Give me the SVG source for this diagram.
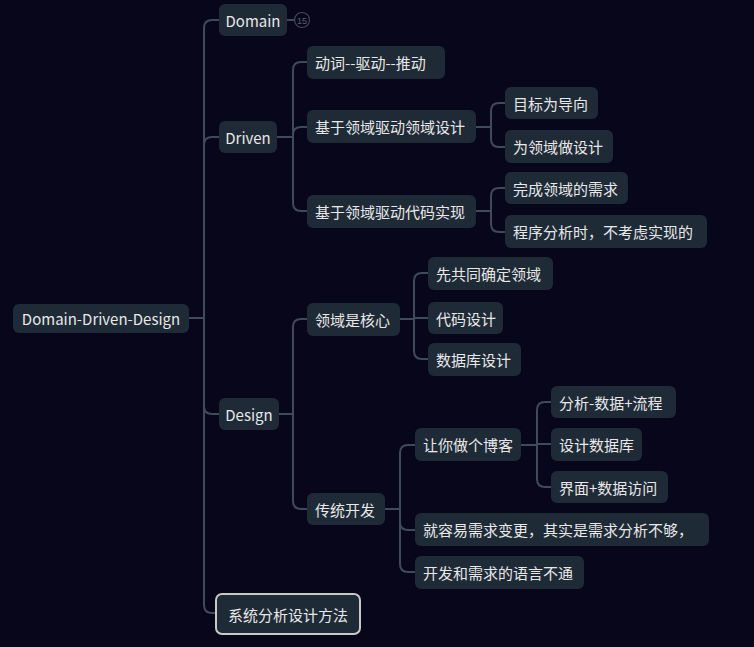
<svg xmlns="http://www.w3.org/2000/svg" width="754" height="647" viewBox="0 0 754 647">
<style>
.n rect{fill:#1f2a37;}
.n text{font-family:"Noto Sans CJK SC","Liberation Sans",sans-serif;font-size:15px;fill:#e8e8e8;dominant-baseline:central;}
.c path{fill:none;stroke:#3f4a5a;stroke-width:2;}
</style>
<rect width="754" height="647" fill="#07061a"/>
<g class="c">
<path d="M189,318 H204"/>
<path d="M204,318 V28 Q204,20 212,20 H219"/>
<path d="M204,318 V145 Q204,137 212,137 H219"/>
<path d="M204,318 V406 Q204,414 212,414 H219"/>
<path d="M204,318 V605 Q204,613 212,613 H216"/>
<path d="M287,20 H295"/>
<path d="M277,137 H293"/>
<path d="M293,137 V70 Q293,62 301,62 H307"/>
<path d="M293,137 V135 Q293,127 301,127 H307"/>
<path d="M293,137 V203 Q293,211 301,211 H307"/>
<path d="M476,127 H491"/>
<path d="M491,127 V111 Q491,103 499,103 H505"/>
<path d="M491,127 V139 Q491,147 499,147 H505"/>
<path d="M476,211 H491"/>
<path d="M491,211 V196 Q491,188 499,188 H505"/>
<path d="M491,211 V224 Q491,232 499,232 H505"/>
<path d="M279,414 H293"/>
<path d="M293,414 V327 Q293,319 301,319 H307"/>
<path d="M293,414 V501 Q293,509 301,509 H307"/>
<path d="M400,319 H414"/>
<path d="M414,319 V281 Q414,273 422,273 H428"/>
<path d="M414,319 V318 H428"/>
<path d="M414,319 V351 Q414,359 422,359 H428"/>
<path d="M385,509 H400"/>
<path d="M400,509 V453 Q400,445 408,445 H415"/>
<path d="M400,509 V522 Q400,530 408,530 H415"/>
<path d="M400,509 V564 Q400,572 408,572 H415"/>
<path d="M521,445 H537"/>
<path d="M537,445 V410 Q537,402 545,402 H551"/>
<path d="M537,445 V444 H551"/>
<path d="M537,445 V479 Q537,487 545,487 H551"/>
</g>
<g id="root" class="n"><rect x="13" y="304" width="176" height="29" rx="6"/><text x="101" y="318.5" text-anchor="middle">Domain-Driven-Design</text></g>
<g id="domain" class="n"><rect x="219" y="4" width="68" height="32" rx="6"/><text x="253" y="20" text-anchor="middle">Domain</text></g>
<g id="badge"><circle cx="302" cy="20" r="7.5" fill="none" stroke="#3f4a5a" stroke-width="1.2"/><text x="302" y="20.5" text-anchor="middle" dominant-baseline="central" font-family="Liberation Sans,sans-serif" font-size="9" fill="#55606e">15</text></g>
<g id="driven" class="n"><rect x="219" y="121" width="58" height="32" rx="6"/><text x="248" y="137" text-anchor="middle">Driven</text></g>
<g id="design" class="n"><rect x="219" y="398" width="60" height="32" rx="6"/><text x="249" y="414" text-anchor="middle">Design</text></g>
<g id="method" class="n"><rect x="216" y="594" width="144" height="40" rx="6" stroke="#c8c8c8" stroke-width="2"/><text x="288" y="614" text-anchor="middle">系统分析设计方法</text></g>
<g id="d1" class="n"><rect x="307" y="46" width="138" height="33" rx="6"/><text x="315" y="62.5">动词--驱动--推动</text></g>
<g id="d2" class="n"><rect x="307" y="110" width="169" height="33" rx="6"/><text x="315" y="126.5">基于领域驱动领域设计</text></g>
<g id="d3" class="n"><rect x="307" y="195" width="169" height="33" rx="6"/><text x="315" y="211.5">基于领域驱动代码实现</text></g>
<g id="d21" class="n"><rect x="505" y="87" width="93" height="32" rx="6"/><text x="513" y="103">目标为导向</text></g>
<g id="d22" class="n"><rect x="505" y="130" width="108" height="33" rx="6"/><text x="513" y="146.5">为领域做设计</text></g>
<g id="d31" class="n"><rect x="505" y="172" width="123" height="32" rx="6"/><text x="513" y="188">完成领域的需求</text></g>
<g id="d32" class="n"><rect x="505" y="215" width="202" height="33" rx="6"/><text x="513" y="231.5">程序分析时，不考虑实现的</text></g>
<g id="g1" class="n"><rect x="307" y="303" width="93" height="33" rx="6"/><text x="315" y="319.5">领域是核心</text></g>
<g id="g11" class="n"><rect x="428" y="257" width="125" height="33" rx="6"/><text x="436" y="273.5">先共同确定领域</text></g>
<g id="g12" class="n"><rect x="428" y="302" width="75" height="32" rx="6"/><text x="436" y="318">代码设计</text></g>
<g id="g13" class="n"><rect x="428" y="343" width="93" height="33" rx="6"/><text x="436" y="359.5">数据库设计</text></g>
<g id="g2" class="n"><rect x="307" y="493" width="78" height="32" rx="6"/><text x="315" y="509">传统开发</text></g>
<g id="g21" class="n"><rect x="415" y="428" width="106" height="33" rx="6"/><text x="423" y="444.5">让你做个博客</text></g>
<g id="g22" class="n"><rect x="415" y="513" width="294" height="33" rx="6"/><text x="423" y="529.5">就容易需求变更，其实是需求分析不够，</text></g>
<g id="g23" class="n"><rect x="415" y="556" width="169" height="33" rx="6"/><text x="423" y="572.5">开发和需求的语言不通</text></g>
<g id="g211" class="n"><rect x="551" y="386" width="125" height="32" rx="6"/><text x="559" y="402">分析-数据+流程</text></g>
<g id="g212" class="n"><rect x="551" y="428" width="91" height="33" rx="6"/><text x="559" y="444.5">设计数据库</text></g>
<g id="g213" class="n"><rect x="551" y="471" width="117" height="32" rx="6"/><text x="559" y="487">界面+数据访问</text></g>
</svg>
